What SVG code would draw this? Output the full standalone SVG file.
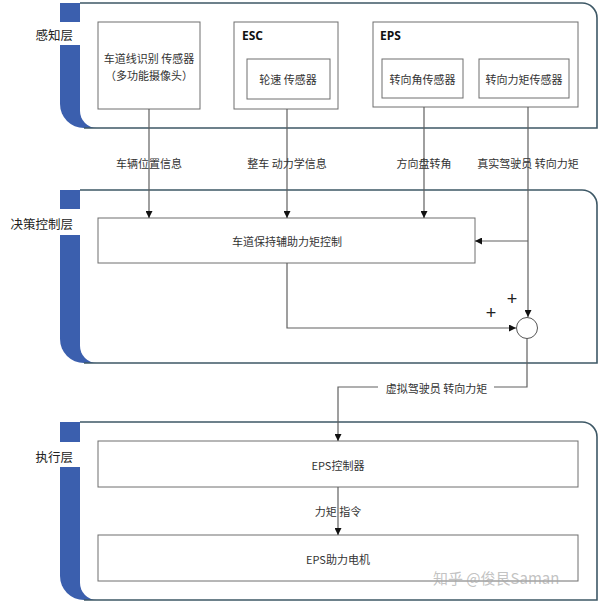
<svg xmlns="http://www.w3.org/2000/svg" width="600" height="603" viewBox="0 0 600 603">
<defs>
<style>
.band{fill:#3b5fae}
.panel{fill:#fff}
.pedge{fill:none;stroke:#3e5866;stroke-width:1.6}
.gap{fill:#fff}
.box{fill:#fff;stroke:#6e6e6e;stroke-width:1}
.ln{fill:none;stroke:#606060;stroke-width:1.2}
.t{font-family:"Noto Sans CJK SC","Microsoft YaHei",sans-serif;font-size:11px;fill:#333;text-anchor:middle;dominant-baseline:central}
.lay{font-family:"Noto Sans CJK SC",sans-serif;font-size:12.5px;fill:#222;text-anchor:end;dominant-baseline:central}
.b{font-family:"Open Sans","Liberation Sans",sans-serif;font-size:12px;font-weight:bold;fill:#111;dominant-baseline:central}
.pl{font-family:"Liberation Sans",sans-serif;font-size:18px;fill:#222;text-anchor:middle;dominant-baseline:central}
.wm{font-family:"Noto Sans CJK SC",sans-serif;font-size:15px;fill:#a8a8a8;fill-opacity:0.7}
</style>
<marker id="ar" viewBox="0 0 10 10" refX="10" refY="5" markerWidth="8" markerHeight="7" markerUnits="userSpaceOnUse" orient="auto">
<path d="M0,0 L10,5 L0,10 Z" fill="#111"/>
</marker>
</defs>

<!-- Layer 1 -->
<g id="layer-perception">
<path class="band" d="M60,3 H100 V128 H84 A24,24 0 0 1 60,104 Z"/>
<path class="panel" d="M80,3 H582 A15,15 0 0 1 597,18 V128 H97 A17,17 0 0 1 80,111 Z"/>
<path class="pedge" d="M80,3 H582 A15,15 0 0 1 597,18 V128 H84"/>
<rect class="gap" x="58" y="22" width="22" height="23"/>
<text class="lay" x="73" y="34">感知层</text>
</g>
<g id="lane-sensor">
<rect class="box" x="98" y="22" width="102" height="87"/>
<text class="t" x="149" y="58">车道线识别 传感器</text>
<text class="t" x="149" y="75">（多功能摄像头）</text>
</g>
<g id="esc">
<rect class="box" x="234" y="22" width="104" height="87"/>
<text class="b" x="242" y="35">ESC</text>
</g>
<g id="wheel-speed-sensor">
<rect class="box" x="247" y="59" width="83" height="40"/>
<text class="t" x="288" y="79">轮速 传感器</text>
</g>
<g id="eps">
<rect class="box" x="373" y="22" width="205" height="85"/>
<text class="b" x="380" y="35">EPS</text>
</g>
<g id="steering-angle-sensor">
<rect class="box" x="382" y="59" width="81" height="39"/>
<text class="t" x="422.5" y="79">转向角传感器</text>
</g>
<g id="steering-torque-sensor">
<rect class="box" x="479" y="59" width="90" height="39"/>
<text class="t" x="524" y="79">转向力矩传感器</text>
</g>

<!-- Layer 2 -->
<g id="layer-decision">
<path class="band" d="M60,190 H100 V363 H84 A24,24 0 0 1 60,339 Z"/>
<path class="panel" d="M80,190 H582 A15,15 0 0 1 597,205 V363 H97 A17,17 0 0 1 80,346 Z"/>
<path class="pedge" d="M80,190 H582 A15,15 0 0 1 597,205 V363 H84"/>
<rect class="gap" x="58" y="209" width="22" height="26"/>
<text class="lay" x="73" y="223">决策控制层</text>
</g>
<g id="lka-control">
<rect class="box" x="98" y="218" width="377" height="45"/>
<text class="t" x="287" y="241">车道保持辅助力矩控制</text>
</g>
<g id="sum">
<circle cx="527" cy="328" r="10.5" fill="#fff" stroke="#555" stroke-width="1"/>
<text class="pl" x="491" y="313">+</text>
<text class="pl" x="512" y="299">+</text>
</g>

<!-- Layer 3 -->
<g id="layer-execution">
<path class="band" d="M60,422 H100 V600 H84 A24,24 0 0 1 60,576 Z"/>
<path class="panel" d="M80,422 H582 A15,15 0 0 1 597,437 V600 H97 A17,17 0 0 1 80,583 Z"/>
<path class="pedge" d="M80,422 H582 A15,15 0 0 1 597,437 V600 H84"/>
<rect class="gap" x="58" y="442" width="22" height="25"/>
<text class="lay" x="73" y="456">执行层</text>
</g>
<g id="eps-controller">
<rect class="box" x="98" y="441" width="480" height="46"/>
<text class="t" x="338" y="465">EPS控制器</text>
</g>
<g id="eps-motor">
<rect class="box" x="98" y="535" width="480" height="46"/>
<text class="t" x="338" y="559">EPS助力电机</text>
</g>

<!-- Connectors -->
<g id="connectors">
<path class="ln" d="M149,109 V218" marker-end="url(#ar)"/>
<path class="ln" d="M287,109 V218" marker-end="url(#ar)"/>
<path class="ln" d="M424,107 V218" marker-end="url(#ar)"/>
<path class="ln" d="M528,107 V317" marker-end="url(#ar)"/>
<path class="ln" d="M528,241 H475" marker-end="url(#ar)"/>
<path class="ln" d="M287,263 V328 H516" marker-end="url(#ar)"/>
<path class="ln" d="M527,338.5 V387 H494"/>
<path class="ln" d="M378,387 H338 V441" marker-end="url(#ar)"/>
<path class="ln" d="M338,487 V535" marker-end="url(#ar)"/>
<text class="t" x="149" y="163">车辆位置信息</text>
<text class="t" x="287" y="163">整车 动力学信息</text>
<text class="t" x="424" y="163">方向盘转角</text>
<text class="t" x="528" y="163">真实驾驶员 转向力矩</text>
<text class="t" x="436.5" y="388">虚拟驾驶员 转向力矩</text>
<text class="t" x="338" y="511">力矩 指令</text>
</g>

<text class="wm" x="433" y="584">知乎 @俊艮Saman</text>
</svg>
